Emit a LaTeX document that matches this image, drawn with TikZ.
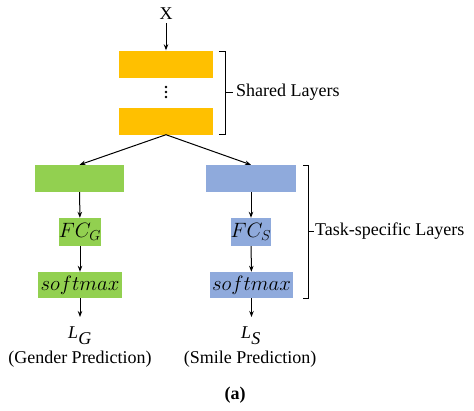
\documentclass[tikz,border=0pt]{standalone}
\usepackage{fontspec}
\setmainfont{Liberation Serif}
\usetikzlibrary{arrows.meta}
\definecolor{shared}{HTML}{FFC000}
\definecolor{gender}{HTML}{92D050}
\definecolor{smile}{HTML}{8FAADC}
\tikzset{
  layer/.style={draw=none,inner sep=0pt,minimum height=27pt,font=\fontsize{20}{22}\selectfont},
  lbl/.style={inner sep=0pt,font=\fontsize{18}{20}\selectfont},
  conn/.style={line width=1pt,-{Stealth[length=6pt,width=4.5pt]}},
  brace/.style={line width=1pt}
}
\begin{document}
\begin{tikzpicture}[x=1pt,y=-1pt]
\useasboundingbox (0,0) rectangle (474,410);
% input
\node[lbl] (x) at (166,14) {X};
% shared layers
\node[layer,fill=shared,minimum width=94pt] (y1) at (166,64) {};
\node[layer,fill=shared,minimum width=94pt] (y2) at (166,121) {};
\fill (166,87) circle (1.3) (166,92) circle (1.3) (166,97) circle (1.3);
% task-specific
\node[layer,fill=gender,minimum width=89pt] (g1) at (79.5,178.5) {};
\node[layer,fill=smile,minimum width=90pt] (b1) at (251,178.5) {};
\node[layer,fill=gender,minimum width=40pt,minimum height=28pt] (fcg) at (80,232) {$FC_G$};
\node[layer,fill=smile,minimum width=40pt,minimum height=28pt] (fcs) at (251,232) {$FC_S$};
\node[layer,fill=gender,minimum width=84pt,minimum height=26pt] (smg) at (80,285) {$softmax$};
\node[layer,fill=smile,minimum width=83pt,minimum height=26pt] (sms) at (251.5,285) {$softmax$};
% outputs
\coordinate (lgin) at (80,317);
\coordinate (lsin) at (251.5,317);
\node[lbl] (lg) at (80,336) {$\textit{L}_{\textit{G}}$};
\node[lbl] (lgt) at (80,359) {(Gender Prediction)};
\node[lbl] (ls) at (251,336) {$\textit{L}_{\textit{S}}$};
\node[lbl] (lst) at (250,359) {(Smile Prediction)};
\node[lbl] (cap) at (235,395) {\textbf{(a)}};
% connectors
\draw[conn] (x.south) ++(0,3) -- (y1.north);
\draw[conn] (y2.south) -- (g1.north);
\draw[conn] (y2.south) -- (b1.north);
\draw[conn] (g1) -- (fcg);
\draw[conn] (fcg) -- (smg);
\draw[conn] (smg) -- (lgin);
\draw[conn] (b1) -- (fcs);
\draw[conn] (fcs) -- (sms);
\draw[conn] (sms) -- (lsin);
% brackets
\draw[brace] (219,51) -- (225,51) -- (225,134) -- (219,134);
\draw[brace] (225,92) -- (233,92);
\node[lbl,anchor=west] (sl) at (236,92) {Shared Layers};
\draw[brace] (303,165) -- (308,165) -- (308,298) -- (303,298);
\draw[brace] (308,231) -- (314,231);
\node[lbl,anchor=west] (tl) at (315,231) {Task-specific Layers};
\end{tikzpicture}
\end{document}
